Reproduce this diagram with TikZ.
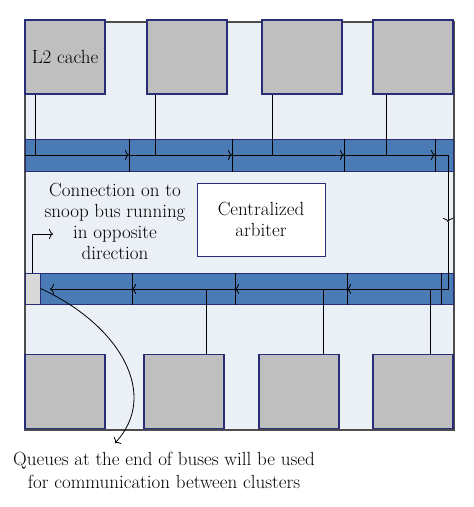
\documentclass[tikz,border=0pt]{standalone}
\usepackage{fontspec}
\usepackage{tikz}
\usetikzlibrary{arrows.meta}
\definecolor{panel}{RGB}{235,240,246}
\definecolor{busblue}{RGB}{74,123,180}
\definecolor{navy}{RGB}{40,45,120}
\definecolor{cachegray}{RGB}{191,191,191}
\definecolor{queuegray}{RGB}{216,216,216}
\tikzset{
  cache/.style={draw=navy, line width=1.2pt, fill=cachegray, minimum width=80pt, minimum height=74pt, inner sep=0pt},
  bus/.style={draw=navy, line width=1pt, fill=busblue, minimum height=32pt, inner sep=0pt},
  wire/.style={line width=0.8pt},
  lbl/.style={font=\fontsize{19}{21}\selectfont, align=center}
}

\begin{document}
\begin{tikzpicture}[x=1pt,y=-1pt,>={To[length=4pt,width=10pt]}]
\useasboundingbox (0,0) rectangle (474,507);
\node[draw=black!70, line width=1.2pt, fill=panel, minimum width=429pt, minimum height=408pt, inner sep=0pt] (frame) at (239.5,226) {};
% caches
\node[cache, lbl] (c1) at (65,57) {L2 cache};
\node[cache] (c2) at (187,57) {};
\node[cache] (c3) at (302,57) {};
\node[cache] (c4) at (413,57) {};
\node[cache] (d1) at (65,391.5) {};
\node[cache] (d2) at (184,391.5) {};
\node[cache] (d3) at (299,391.5) {};
\node[cache] (d4) at (413,391.5) {};
% buses
\node[bus, minimum width=428pt] (top) at (239,155) {};
\node[bus, minimum width=413pt, minimum height=31pt] (bot) at (246.5,288.5) {};
\node[draw=navy, line width=1pt, fill=queuegray, minimum width=15pt, minimum height=31pt, inner sep=0pt] (queue) at (32.5,288.5) {};
\node[draw=navy, line width=1pt, fill=white, minimum width=128pt, minimum height=73pt, lbl] (arb) at (261,219.5) {Centralized\\arbiter};
% upper bus
\coordinate (u0) at (25,155);
\coordinate (u1) at (35,155);
\coordinate (u2) at (155,155);
\coordinate (u3) at (272,155);
\coordinate (u4) at (386,155);
\coordinate (t1) at (129,155);
\coordinate (t2) at (232,155);
\coordinate (t3) at (344,155);
\coordinate (t4) at (435,155);
\coordinate (ka) at (448,155);
\coordinate (km) at (448,222);
\coordinate (kb) at (448,289);
\draw[wire] (c1.south -| u1) -- (u1);
\draw[wire] (c2.south -| u2) -- (u2);
\draw[wire] (c3.south -| u3) -- (u3);
\draw[wire] (c4.south -| u4) -- (u4);
\draw[wire] (top.north -| t1) -- (top.south -| t1);
\draw[wire] (top.north -| t2) -- (top.south -| t2);
\draw[wire] (top.north -| t3) -- (top.south -| t3);
\draw[wire] (top.north -| t4) -- (top.south -| t4);
\draw[wire,->] (u0) -- (t1);
\draw[wire,->] (t1) -- (t2);
\draw[wire,->] (t2) -- (t3);
\draw[wire,->] (t3) -- (t4);
\draw[wire,->] (t4) -- (ka) -- (km);
% lower bus
\coordinate (b1) at (132,289);
\coordinate (b2) at (235,289);
\coordinate (b3) at (347,289);
\coordinate (b4) at (441,289);
\coordinate (qe) at (50,289);
\coordinate (l1) at (206,289);
\coordinate (l2) at (323,289);
\coordinate (l3) at (430,289);
\draw[wire] (bot.north -| b1) -- (bot.south -| b1);
\draw[wire] (bot.north -| b2) -- (bot.south -| b2);
\draw[wire] (bot.north -| b3) -- (bot.south -| b3);
\draw[wire] (bot.north -| b4) -- (bot.south -| b4);
\draw[wire] (km) -- (kb) -- (b4);
\draw[wire,->] (b4) -- (b3);
\draw[wire,->] (b3) -- (b2);
\draw[wire,->] (b2) -- (b1);
\draw[wire,->] (b1) -- (qe);
\draw[wire] (l1) -- (d2.north -| l1);
\draw[wire] (l2) -- (d3.north -| l2);
\draw[wire] (l3) -- (d4.north -| l3);
% queue notes
\node[lbl] (conn) at (115,221) {Connection on to\\snoop bus running\\in opposite\\direction};
\node[lbl, font=\fontsize{19}{23}\selectfont] (note) at (164,470) {Queues at the end of buses will be used\\for communication between clusters};
\coordinate (qa) at (53,234);
\coordinate (qb) at (115,443);
\draw[wire,->] (queue.north) |- (qa);
\draw[wire,->] (queue.east) .. controls (120,325) and (160,395) .. (qb);
\end{tikzpicture}
\end{document}
